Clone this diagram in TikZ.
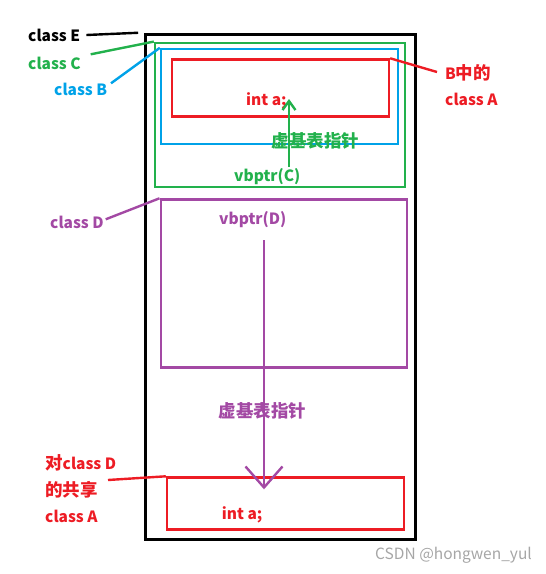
\documentclass[tikz,border=0pt]{standalone}
\usepackage{fontspec}
\setmainfont{Noto Sans CJK SC}
\usetikzlibrary{arrows.meta}
\definecolor{pred}{RGB}{237,28,36}
\definecolor{pgreen}{RGB}{34,177,76}
\definecolor{pblue}{RGB}{0,162,232}
\definecolor{ppurple}{RGB}{163,73,164}
\newcommand{\zh}[1]{{\fontsize{17.5}{20}\selectfont #1}}
\tikzset{
  lbl/.style={font=\bfseries\fontsize{15.5}{19}\selectfont, inner sep=0pt, anchor=west},
  box/.style={draw, line width=2.4pt, inner sep=0pt, minimum width=#1},
  box/.default=1pt,
  wire/.style={line width=2.4pt},
}
\begin{document}
\begin{tikzpicture}[x=1pt,y=-1pt]
\useasboundingbox (0,0) rectangle (546,574);
% Klassen als Rechtecke
\node[box=270pt, minimum height=505pt, line width=3pt] (E) at (280.7,286.5) {};
\node[box=250pt, minimum height=144pt, pgreen] (C) at (280,114.8) {};
\node[box=237pt, minimum height=95pt, pblue] (B) at (279.5,96.5) {};
\node[box=217pt, minimum height=57pt, pred] (A1) at (280.5,88) {};
\node[box=246pt, minimum height=168pt, ppurple] (D) at (283.7,283.5) {};
\node[box=237pt, minimum height=52pt, pred] (A2) at (285.5,503.5) {};

% Beschriftungen links und rechts
\node[lbl] (lE) at (28,35) {class E};
\node[lbl, pgreen] (lC) at (28,63.5) {class C};
\node[lbl, pblue] (lB) at (54,89) {class B};
\node[lbl, pred] (lA1a) at (445,73) {B\zh{中的}};
\node[lbl, pred] (lA1b) at (445,99) {class A};
\node[lbl, ppurple] (lD) at (50,222.3) {class D};
\node[lbl, pred] (lA2a) at (45,462.7) {\zh{对}class D};
\node[lbl, pred] (lA2b) at (45,490) {\zh{的共享}};
\node[lbl, pred] (lA2c) at (45,516.7) {class A};

\coordinate (cC) at (90.7,54.3);
\coordinate (cB) at (111,83.3);
\coordinate (cA1) at (437,72);
\coordinate (cD) at (105.7,219.3);
\coordinate (cA2) at (108,480);
\draw[wire, shorten >=6pt] ([xshift=6pt]lE.east) -- (E.north west);
\draw[wire, pgreen] (cC) -- (C.north west);
\draw[wire, pblue] (cB) -- (B.north west);
\draw[wire, pred] (A1.north east) -- (cA1);
\draw[wire, ppurple] (cD) -- (D.north west);
\draw[wire, pred] (cA2) -- (A2.north west);

% Inhalt von C
\node[lbl, pred] (intC) at (246,100.7) {int a;};
\node[lbl, pgreen] (vbC) at (234,176.7) {vbptr(C)};
\coordinate (gS) at (289,167);
\coordinate (gT) at (289,99);
\draw[wire, pgreen, -{Straight Barb[length=9pt,width=13pt]}] (gS) -- (gT);
\node[lbl, pgreen] (ptrC) at (271.7,141) {\zh{虚基表指针}};

% Inhalt von D
\node[lbl, ppurple] (vbD) at (219,220) {vbptr(D)};
\coordinate (pS) at (264,240);
\coordinate (pT) at (264,489.3);
\draw[wire, ppurple, -{Straight Barb[length=21pt,width=37pt]}] (pS) -- (pT);
\node[lbl, ppurple] (ptrD) at (218.4,411) {\zh{虚基表指针}};
\node[lbl, pred] (intD) at (221.7,515) {int a;};

% Wasserzeichen
\node[inner sep=0pt, anchor=west, gray!70, font=\fontsize{15.5}{18}\selectfont] (wm) at (375,555) {CSDN @hongwen\_yul};
\end{tikzpicture}
\end{document}
